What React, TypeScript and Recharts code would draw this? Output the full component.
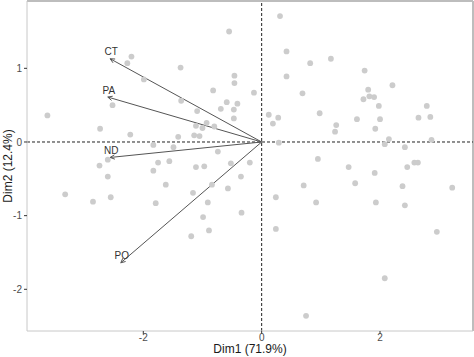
import { ScatterChart, Scatter, XAxis, YAxis, ReferenceLine } from "recharts";

// individual scores on the first two dimensions
const dim1Scores = [
  -2.2, -2.27, -1.99, -2.52, -3.62, -2.73, -2.22, -1.83, -2.6, -2.74, -2.6, -1.75, -1.83,
  -3.32, -2.85, -2.55, -1.79, 0.31, -0.55, 0.42, 0.82, -1.37, -0.46, 0.42, -0.46, -0.82,
  -0.13, 0.69, -1.36, -0.59, -0.41, -0.69, -0.47, -1.09, 0.98, 0.12, 0.28, -0.47, 0.19,
  -0.93, -1.11, -0.8, -1.0, -1.14, -1.05, -1.41, 0.29, -1.49, -0.74, -1.56, -0.52, -0.2,
  0.95, -1.11, -0.97, -0.35, -1.62, -0.84, -0.57, 0.71, -1.16, 0.24, -0.91, 0.92, -0.34,
  -0.99, 0.24, -0.89, -1.19, 0.75, 1.17, 1.74, 2.21, 1.8, 1.72, 1.82, 1.9, 1.98, 2.79,
  1.61, 2.0, 2.65, 2.85, 1.26, 1.24, 1.92, 2.15, 2.08, 2.87, 2.42, 1.47, 2.46, 2.58, 2.64,
  1.91, 1.58, 2.38, 3.22, 1.93, 2.42, 2.96, 2.08,
];
const dim2Scores = [
  1.16, 1.07, 0.85, 0.5, 0.36, 0.18, 0.1, -0.04, -0.24, -0.32, -0.47, -0.28, -0.39,
  -0.71, -0.81, -0.75, -0.83, 1.71, 1.5, 1.23, 1.07, 1.01, 0.9, 0.89, 0.8, 0.7,
  0.67, 0.66, 0.56, 0.54, 0.52, 0.45, 0.44, 0.42, 0.39, 0.37, 0.33, 0.32, 0.25,
  0.26, 0.22, 0.21, 0.19, 0.09, 0.08, 0.07, -0.01, -0.07, -0.13, -0.26, -0.29, -0.28,
  -0.23, -0.34, -0.33, -0.47, -0.58, -0.58, -0.63, -0.59, -0.69, -0.75, -0.82, -0.82, -0.96,
  -1.02, -1.18, -1.2, -1.28, -2.36, 1.13, 0.97, 0.77, 0.71, 0.58, 0.62, 0.61, 0.49, 0.49,
  0.31, 0.31, 0.33, 0.34, 0.23, 0.14, 0.18, 0.04, -0.03, 0.03, -0.07, -0.34, -0.34, -0.28, -0.28,
  -0.42, -0.56, -0.6, -0.62, -0.82, -0.86, -1.22, -1.85,
];

// variable arrows
const varNames = ["CT", "PA", "ND", "PO"];
const varDim1 = [-2.56, -2.6, -2.56, -2.38];
const varDim2 = [1.13, 0.61, -0.21, -1.64];

const xTicks = [-2, 0, 2];
const yTicks = [-2, -1, 0, 1];
const xDomain = [-3.965, 3.571];
const yDomain = [-2.566, 1.914];

const scores = dim1Scores.map((x, i) => ({ dim1: x, dim2: dim2Scores[i] }));

const font = "'Liberation Sans', Arial, sans-serif";

const Dot = (p: any) => <circle cx={p.cx} cy={p.cy} r={2.9} fill="#cccccc" />;

const arrowShape = (name: string) => (p: any) => {
  const { x1, y1, x2, y2 } = p;
  const ang = Math.atan2(y2 - y1, x2 - x1);
  const len = 5;
  const spread = Math.PI / 7;
  const ax1 = x2 - len * Math.cos(ang - spread);
  const ay1 = y2 - len * Math.sin(ang - spread);
  const ax2 = x2 - len * Math.cos(ang + spread);
  const ay2 = y2 - len * Math.sin(ang + spread);
  return (
    <g>
      <line x1={x1} y1={y1} x2={x2} y2={y2} stroke="#555" strokeWidth={1} />
      <polyline
        points={`${ax1},${ay1} ${x2},${y2} ${ax2},${ay2}`}
        fill="none"
        stroke="#555"
        strokeWidth={1}
      />
      <text
        x={x2 + 1}
        y={y2 - 7}
        textAnchor="middle"
        dominantBaseline="central"
        fontSize={10}
        fontFamily={font}
        fill="#333"
      >
        {name}
      </text>
    </g>
  );
};

export default function App() {
  return (
    <div style={{ position: "absolute", left: 0, top: 0, background: "#fff" }}>
      <ScatterChart
        width={474}
        height={357}
        margin={{ top: 1, right: 1, bottom: 0, left: 0 }}
        style={{ fontFamily: font }}
      >
        <XAxis
          type="number"
          dataKey="dim1"
          domain={xDomain}
          ticks={xTicks}
          allowDataOverflow
          height={26}
          tickSize={3}
          tickMargin={0}
          tick={{ fontSize: 10, fill: "#4d4d4d" }}
          tickLine={{ stroke: "#333" }}
          axisLine={{ stroke: "#c8c8c8" }}
          label={{
            content: (lp: any) => {
              const vb = lp.viewBox;
              return (
                <text
                  x={vb.x + vb.width / 2}
                  y={vb.y + 22}
                  textAnchor="middle"
                  fontSize={12}
                  fontFamily={font}
                  fill="#1a1a1a"
                >
                  Dim1 (71.9%)
                </text>
              );
            },
          }}
        />
        <YAxis
          type="number"
          dataKey="dim2"
          domain={yDomain}
          ticks={yTicks}
          allowDataOverflow
          width={27}
          tickSize={3}
          tickMargin={2}
          tick={{ fontSize: 10, fill: "#4d4d4d" }}
          tickLine={{ stroke: "#333" }}
          axisLine={{ stroke: "#c8c8c8" }}
          label={{
            content: (lp: any) => {
              const vb = lp.viewBox;
              const cx = 12;
              const cy = vb.y + vb.height / 2;
              return (
                <text
                  x={cx}
                  y={cy}
                  transform={`rotate(-90, ${cx}, ${cy})`}
                  textAnchor="middle"
                  fontSize={12}
                  fontFamily={font}
                  fill="#1a1a1a"
                >
                  Dim2 (12.4%)
                </text>
              );
            },
          }}
        />
        <ReferenceLine y={yDomain[1]} stroke="#bdbdbd" strokeWidth={2} />
        <ReferenceLine x={xDomain[1]} stroke="#bdbdbd" strokeWidth={2} />
        <Scatter data={scores} shape={Dot} isAnimationActive={false} />
        <ReferenceLine x={0} stroke="#222" strokeDasharray="3 2" />
        <ReferenceLine y={0} stroke="#222" strokeDasharray="3 2" />
        {varNames.map((name, i) => (
          <ReferenceLine
            key={name}
            segment={[
              { x: 0, y: 0 },
              { x: varDim1[i], y: varDim2[i] },
            ]}
            shape={arrowShape(name)}
          />
        ))}
      </ScatterChart>
    </div>
  );
}
